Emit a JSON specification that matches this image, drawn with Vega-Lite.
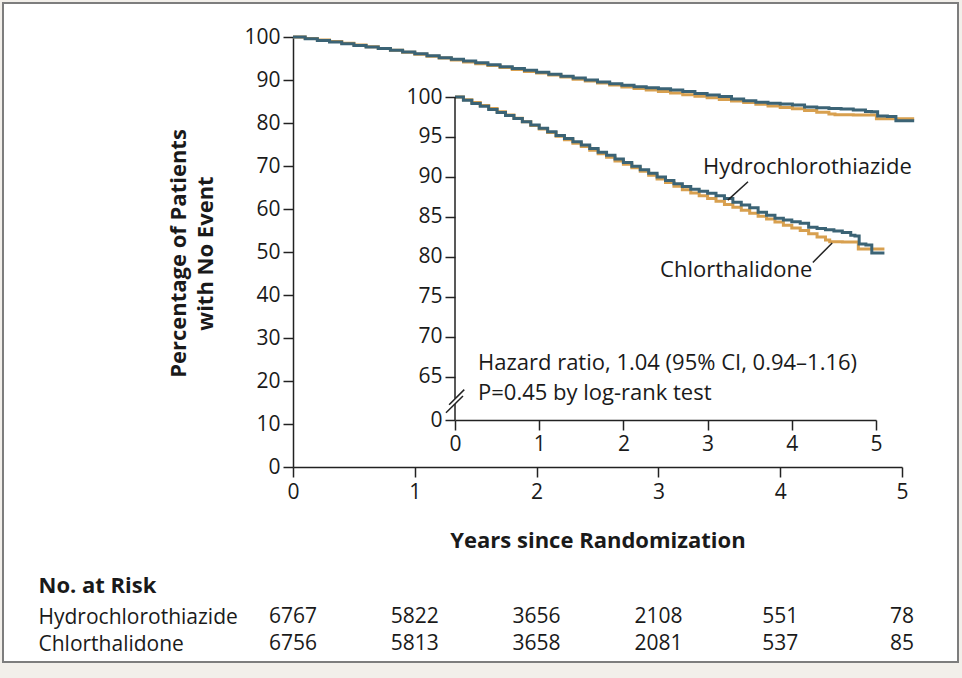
{
  "$schema": "https://vega.github.io/schema/vega-lite/v6.json",
  "width": 955,
  "height": 659,
  "autosize": {"type": "none"},
  "padding": {"left": 3, "top": 3, "right": 4, "bottom": 16},
  "background": "#f2efea",
  "config": {
    "view": {"stroke": "#7d7d7d", "strokeWidth": 2, "fill": "white"},
    "font": "Open Sans",
    "text": {"font": "Open Sans"},
    "axis": {
      "labelFont": "Open Sans", "labelFontSize": 21, "labelColor": "#1a1a1a",
      "titleFont": "Open Sans", "titleFontSize": 22, "titleFontWeight": "bold", "titleColor": "#1a1a1a",
      "domainColor": "#222222", "tickColor": "#222222", "domainWidth": 1.5, "tickWidth": 1.5,
      "tickSize": 10, "labelPadding": 3, "grid": false, "labelFlush": false, "labelOverlap": false,
      "labelLimit": 0
    }
  },
  "datasets": {
    "curves": [
      {"arm": "Chlorthalidone", "t": 0, "s": 100},
      {"arm": "Chlorthalidone", "t": 0.1, "s": 99.65},
      {"arm": "Chlorthalidone", "t": 0.2, "s": 99.3},
      {"arm": "Chlorthalidone", "t": 0.3, "s": 98.95},
      {"arm": "Chlorthalidone", "t": 0.4, "s": 98.55},
      {"arm": "Chlorthalidone", "t": 0.5, "s": 98.15},
      {"arm": "Chlorthalidone", "t": 0.6, "s": 97.75},
      {"arm": "Chlorthalidone", "t": 0.7, "s": 97.35},
      {"arm": "Chlorthalidone", "t": 0.8, "s": 96.9},
      {"arm": "Chlorthalidone", "t": 0.9, "s": 96.45},
      {"arm": "Chlorthalidone", "t": 1.0, "s": 96.0},
      {"arm": "Chlorthalidone", "t": 1.1, "s": 95.55},
      {"arm": "Chlorthalidone", "t": 1.2, "s": 95.1},
      {"arm": "Chlorthalidone", "t": 1.3, "s": 94.65},
      {"arm": "Chlorthalidone", "t": 1.4, "s": 94.2},
      {"arm": "Chlorthalidone", "t": 1.5, "s": 93.8},
      {"arm": "Chlorthalidone", "t": 1.6, "s": 93.35},
      {"arm": "Chlorthalidone", "t": 1.7, "s": 92.9},
      {"arm": "Chlorthalidone", "t": 1.8, "s": 92.45},
      {"arm": "Chlorthalidone", "t": 1.9, "s": 92.0},
      {"arm": "Chlorthalidone", "t": 2.0, "s": 91.6},
      {"arm": "Chlorthalidone", "t": 2.1, "s": 91.15},
      {"arm": "Chlorthalidone", "t": 2.2, "s": 90.7},
      {"arm": "Chlorthalidone", "t": 2.3, "s": 90.2},
      {"arm": "Chlorthalidone", "t": 2.4, "s": 89.75},
      {"arm": "Chlorthalidone", "t": 2.5, "s": 89.3},
      {"arm": "Chlorthalidone", "t": 2.6, "s": 88.85},
      {"arm": "Chlorthalidone", "t": 2.7, "s": 88.4},
      {"arm": "Chlorthalidone", "t": 2.8, "s": 88.0},
      {"arm": "Chlorthalidone", "t": 2.9, "s": 87.65},
      {"arm": "Chlorthalidone", "t": 3.0, "s": 87.3},
      {"arm": "Chlorthalidone", "t": 3.1, "s": 86.95},
      {"arm": "Chlorthalidone", "t": 3.2, "s": 86.55},
      {"arm": "Chlorthalidone", "t": 3.3, "s": 86.2},
      {"arm": "Chlorthalidone", "t": 3.4, "s": 85.85},
      {"arm": "Chlorthalidone", "t": 3.5, "s": 85.45},
      {"arm": "Chlorthalidone", "t": 3.6, "s": 85.1},
      {"arm": "Chlorthalidone", "t": 3.7, "s": 84.75},
      {"arm": "Chlorthalidone", "t": 3.8, "s": 84.35},
      {"arm": "Chlorthalidone", "t": 3.9, "s": 83.95},
      {"arm": "Chlorthalidone", "t": 4.0, "s": 83.6},
      {"arm": "Chlorthalidone", "t": 4.1, "s": 83.3},
      {"arm": "Chlorthalidone", "t": 4.2, "s": 82.9},
      {"arm": "Chlorthalidone", "t": 4.3, "s": 82.5},
      {"arm": "Chlorthalidone", "t": 4.4, "s": 82.1},
      {"arm": "Chlorthalidone", "t": 4.45, "s": 81.9},
      {"arm": "Chlorthalidone", "t": 4.6, "s": 81.85},
      {"arm": "Chlorthalidone", "t": 4.79, "s": 81.0},
      {"arm": "Chlorthalidone", "t": 5.1, "s": 81.0},
      {"arm": "Hydrochlorothiazide", "t": 0, "s": 100},
      {"arm": "Hydrochlorothiazide", "t": 0.1, "s": 99.6},
      {"arm": "Hydrochlorothiazide", "t": 0.2, "s": 99.2},
      {"arm": "Hydrochlorothiazide", "t": 0.3, "s": 98.85},
      {"arm": "Hydrochlorothiazide", "t": 0.4, "s": 98.45},
      {"arm": "Hydrochlorothiazide", "t": 0.5, "s": 98.05},
      {"arm": "Hydrochlorothiazide", "t": 0.6, "s": 97.7},
      {"arm": "Hydrochlorothiazide", "t": 0.7, "s": 97.3},
      {"arm": "Hydrochlorothiazide", "t": 0.8, "s": 96.9},
      {"arm": "Hydrochlorothiazide", "t": 0.9, "s": 96.5},
      {"arm": "Hydrochlorothiazide", "t": 1.0, "s": 96.1},
      {"arm": "Hydrochlorothiazide", "t": 1.1, "s": 95.65},
      {"arm": "Hydrochlorothiazide", "t": 1.2, "s": 95.2},
      {"arm": "Hydrochlorothiazide", "t": 1.3, "s": 94.8},
      {"arm": "Hydrochlorothiazide", "t": 1.4, "s": 94.4},
      {"arm": "Hydrochlorothiazide", "t": 1.5, "s": 94.0},
      {"arm": "Hydrochlorothiazide", "t": 1.6, "s": 93.55},
      {"arm": "Hydrochlorothiazide", "t": 1.7, "s": 93.1},
      {"arm": "Hydrochlorothiazide", "t": 1.8, "s": 92.7},
      {"arm": "Hydrochlorothiazide", "t": 1.9, "s": 92.25},
      {"arm": "Hydrochlorothiazide", "t": 2.0, "s": 91.8},
      {"arm": "Hydrochlorothiazide", "t": 2.1, "s": 91.35},
      {"arm": "Hydrochlorothiazide", "t": 2.2, "s": 90.9},
      {"arm": "Hydrochlorothiazide", "t": 2.3, "s": 90.45},
      {"arm": "Hydrochlorothiazide", "t": 2.4, "s": 90.0},
      {"arm": "Hydrochlorothiazide", "t": 2.5, "s": 89.55},
      {"arm": "Hydrochlorothiazide", "t": 2.6, "s": 89.15},
      {"arm": "Hydrochlorothiazide", "t": 2.7, "s": 88.8},
      {"arm": "Hydrochlorothiazide", "t": 2.8, "s": 88.45},
      {"arm": "Hydrochlorothiazide", "t": 2.9, "s": 88.2},
      {"arm": "Hydrochlorothiazide", "t": 3.0, "s": 87.95},
      {"arm": "Hydrochlorothiazide", "t": 3.1, "s": 87.65},
      {"arm": "Hydrochlorothiazide", "t": 3.2, "s": 87.3},
      {"arm": "Hydrochlorothiazide", "t": 3.3, "s": 86.85},
      {"arm": "Hydrochlorothiazide", "t": 3.4, "s": 86.5},
      {"arm": "Hydrochlorothiazide", "t": 3.5, "s": 86.15},
      {"arm": "Hydrochlorothiazide", "t": 3.6, "s": 85.6},
      {"arm": "Hydrochlorothiazide", "t": 3.7, "s": 85.2},
      {"arm": "Hydrochlorothiazide", "t": 3.8, "s": 84.85},
      {"arm": "Hydrochlorothiazide", "t": 3.9, "s": 84.6},
      {"arm": "Hydrochlorothiazide", "t": 4.0, "s": 84.4},
      {"arm": "Hydrochlorothiazide", "t": 4.1, "s": 84.2},
      {"arm": "Hydrochlorothiazide", "t": 4.2, "s": 83.7},
      {"arm": "Hydrochlorothiazide", "t": 4.3, "s": 83.55},
      {"arm": "Hydrochlorothiazide", "t": 4.4, "s": 83.4},
      {"arm": "Hydrochlorothiazide", "t": 4.5, "s": 83.25},
      {"arm": "Hydrochlorothiazide", "t": 4.6, "s": 83.05},
      {"arm": "Hydrochlorothiazide", "t": 4.7, "s": 82.7},
      {"arm": "Hydrochlorothiazide", "t": 4.75, "s": 82.6},
      {"arm": "Hydrochlorothiazide", "t": 4.8, "s": 81.6},
      {"arm": "Hydrochlorothiazide", "t": 4.88, "s": 81.5},
      {"arm": "Hydrochlorothiazide", "t": 4.95, "s": 80.5},
      {"arm": "Hydrochlorothiazide", "t": 5.1, "s": 80.5}
    ],
    "risk": [
      {"arm": "Hydrochlorothiazide", "t": 0, "n": "6767"},
      {"arm": "Hydrochlorothiazide", "t": 1, "n": "5822"},
      {"arm": "Hydrochlorothiazide", "t": 2, "n": "3656"},
      {"arm": "Hydrochlorothiazide", "t": 3, "n": "2108"},
      {"arm": "Hydrochlorothiazide", "t": 4, "n": "551"},
      {"arm": "Hydrochlorothiazide", "t": 5, "n": "78"},
      {"arm": "Chlorthalidone", "t": 0, "n": "6756"},
      {"arm": "Chlorthalidone", "t": 1, "n": "5813"},
      {"arm": "Chlorthalidone", "t": 2, "n": "3658"},
      {"arm": "Chlorthalidone", "t": 3, "n": "2081"},
      {"arm": "Chlorthalidone", "t": 4, "n": "537"},
      {"arm": "Chlorthalidone", "t": 5, "n": "85"}
    ]
  },
  "resolve": {
    "scale": {"x": "independent", "y": "independent"},
    "axis": {"x": "independent", "y": "independent"}
  },
  "layer": [
    {
      "data": {"name": "curves"},
      "encoding": {
        "x": {
          "field": "t", "type": "quantitative",
          "scale": {"domain": [0, 5], "range": [290, 899], "nice": false, "zero": false},
          "axis": {
            "orient": "bottom", "offset": -195, "values": [0, 1, 2, 3, 4, 5], "format": "d",
            "labelPadding": 4,
            "title": "Years since Randomization", "titleX": 594.5, "titleY": 73,
            "titleAnchor": null, "titleAlign": "center", "titleBaseline": "middle"
          }
        },
        "y": {
          "field": "s", "type": "quantitative",
          "scale": {"domain": [0, 100], "range": [464, 34], "nice": false, "zero": false},
          "axis": {
            "orient": "left", "offset": -290, "values": [0, 10, 20, 30, 40, 50, 60, 70, 80, 90, 100],
            "format": "d",
            "title": ["Percentage of Patients", "with No Event"],
            "titleAngle": -90, "titleX": -115, "titleY": 250,
            "titleAlign": "center", "titleBaseline": "middle", "titleLineHeight": 27
          }
        }
      },
      "layer": [
        {
          "transform": [{"filter": "datum.arm === 'Chlorthalidone'"}],
          "mark": {"type": "line", "interpolate": "step-after", "color": "#d8a04f", "strokeWidth": 3}
        },
        {
          "transform": [{"filter": "datum.arm === 'Hydrochlorothiazide'"}],
          "mark": {"type": "line", "interpolate": "step-after", "color": "#3b6375", "strokeWidth": 3}
        }
      ]
    },
    {
      "layer": [
        {
          "data": {"name": "curves"},
          "transform": [{"filter": "datum.arm === 'Chlorthalidone'"}],
          "mark": {"type": "line", "interpolate": "step-after", "color": "#d8a04f", "strokeWidth": 3},
          "encoding": {
            "x": {
              "field": "t", "type": "quantitative",
              "scale": {"domain": [0, 5], "range": [452, 873], "nice": false, "zero": false},
              "axis": {"orient": "bottom", "offset": -242, "values": [0, 1, 2, 3, 4, 5], "format": "d", "labelPadding": 3, "title": null}
            },
            "y": {
              "field": "s", "type": "quantitative",
              "scale": {"domain": [59.6, 100], "range": [417, 94], "nice": false, "zero": false},
              "axis": {
                "orient": "left", "offset": -452, "domain": false,
                "values": [59.6, 65, 70, 75, 80, 85, 90, 95, 100],
                "labelExpr": "datum.value < 61 ? '0' : format(datum.value, 'd')",
                "title": null
              }
            }
          }
        },
        {
          "data": {"name": "curves"},
          "transform": [{"filter": "datum.arm === 'Hydrochlorothiazide'"}],
          "mark": {"type": "line", "interpolate": "step-after", "color": "#3b6375", "strokeWidth": 3},
          "encoding": {
            "x": {"field": "t", "type": "quantitative"},
            "y": {"field": "s", "type": "quantitative"}
          }
        },
        {
          "data": {"values": [{"segment": "upper axis"}]},
          "mark": {"type": "rule", "color": "#222222", "strokeWidth": 1.5},
          "encoding": {"x": {"datum": 0}, "y": {"datum": 100}, "y2": {"datum": 62.25}}
        },
        {
          "data": {"values": [{"segment": "lower axis"}]},
          "mark": {"type": "rule", "color": "#222222", "strokeWidth": 1.5},
          "encoding": {"x": {"datum": 0}, "y": {"datum": 61.6}, "y2": {"datum": 59.6}}
        },
        {
          "data": {"values": [{"segment": "break upper"}]},
          "mark": {"type": "rule", "color": "#222222", "strokeWidth": 1.5},
          "encoding": {"x": {"datum": -0.07}, "y": {"datum": 61.5}, "x2": {"datum": 0.11}, "y2": {"datum": 63.4}}
        },
        {
          "data": {"values": [{"segment": "break lower"}]},
          "mark": {"type": "rule", "color": "#222222", "strokeWidth": 1.5},
          "encoding": {"x": {"datum": -0.107}, "y": {"datum": 60.5}, "x2": {"datum": 0.095}, "y2": {"datum": 62.6}}
        },
        {
          "data": {"values": [{"pointer": "Hydrochlorothiazide"}]},
          "mark": {"type": "rule", "color": "#222222", "strokeWidth": 1.5},
          "encoding": {"x": {"datum": 3.48}, "y": {"datum": 89.4}, "x2": {"datum": 3.24}, "y2": {"datum": 87.1}}
        },
        {
          "data": {"values": [{"pointer": "Chlorthalidone"}]},
          "mark": {"type": "rule", "color": "#222222", "strokeWidth": 1.5},
          "encoding": {"x": {"datum": 4.25}, "y": {"datum": 79.3}, "x2": {"datum": 4.48}, "y2": {"datum": 81.75}}
        },
        {
          "data": {"values": [{"label": "Hydrochlorothiazide"}]},
          "mark": {"type": "text", "align": "left", "baseline": "middle", "fontSize": 22, "color": "#1a1a1a"},
          "encoding": {"x": {"datum": 2.945}, "y": {"datum": 91.25}, "text": {"field": "label"}}
        },
        {
          "data": {"values": [{"label": "Chlorthalidone"}]},
          "mark": {"type": "text", "align": "left", "baseline": "middle", "fontSize": 22, "color": "#1a1a1a"},
          "encoding": {"x": {"datum": 2.435}, "y": {"datum": 78.4}, "text": {"field": "label"}}
        },
        {
          "data": {"values": [{"label": "Hazard ratio, 1.04 (95% CI, 0.94–1.16)"}]},
          "mark": {"type": "text", "align": "left", "baseline": "middle", "fontSize": 22, "color": "#1a1a1a"},
          "encoding": {"x": {"datum": 0.273}, "y": {"datum": 66.75}, "text": {"field": "label"}}
        },
        {
          "data": {"values": [{"label": "P=0.45 by log-rank test"}]},
          "mark": {"type": "text", "align": "left", "baseline": "middle", "fontSize": 22, "color": "#1a1a1a"},
          "encoding": {"x": {"datum": 0.273}, "y": {"datum": 63.0}, "text": {"field": "label"}}
        }
      ]
    },
    {
      "data": {"name": "risk"},
      "mark": {"type": "text", "fontSize": 21, "align": "center", "baseline": "middle", "color": "#1a1a1a"},
      "encoding": {
        "x": {
          "field": "t", "type": "quantitative",
          "scale": {"domain": [0, 5], "range": [290, 899], "nice": false, "zero": false},
          "axis": null
        },
        "y": {
          "field": "arm", "type": "nominal",
          "scale": {"type": "point", "domain": ["Hydrochlorothiazide", "Chlorthalidone"], "range": [614, 641], "padding": 0},
          "axis": {
            "orient": "left", "offset": -35, "ticks": false, "tickSize": 0, "domain": false,
            "labelAlign": "left", "labelPadding": 0, "labelBaseline": "middle", "labelLimit": 0,
            "labelFontSize": 21,
            "title": "No. at Risk", "titleAngle": 0, "titleAlign": "left", "titleBaseline": "middle",
            "titleX": 0, "titleY": 582, "titleFontWeight": "bold"
          }
        },
        "text": {"field": "n", "type": "nominal"}
      }
    }
  ]
}
